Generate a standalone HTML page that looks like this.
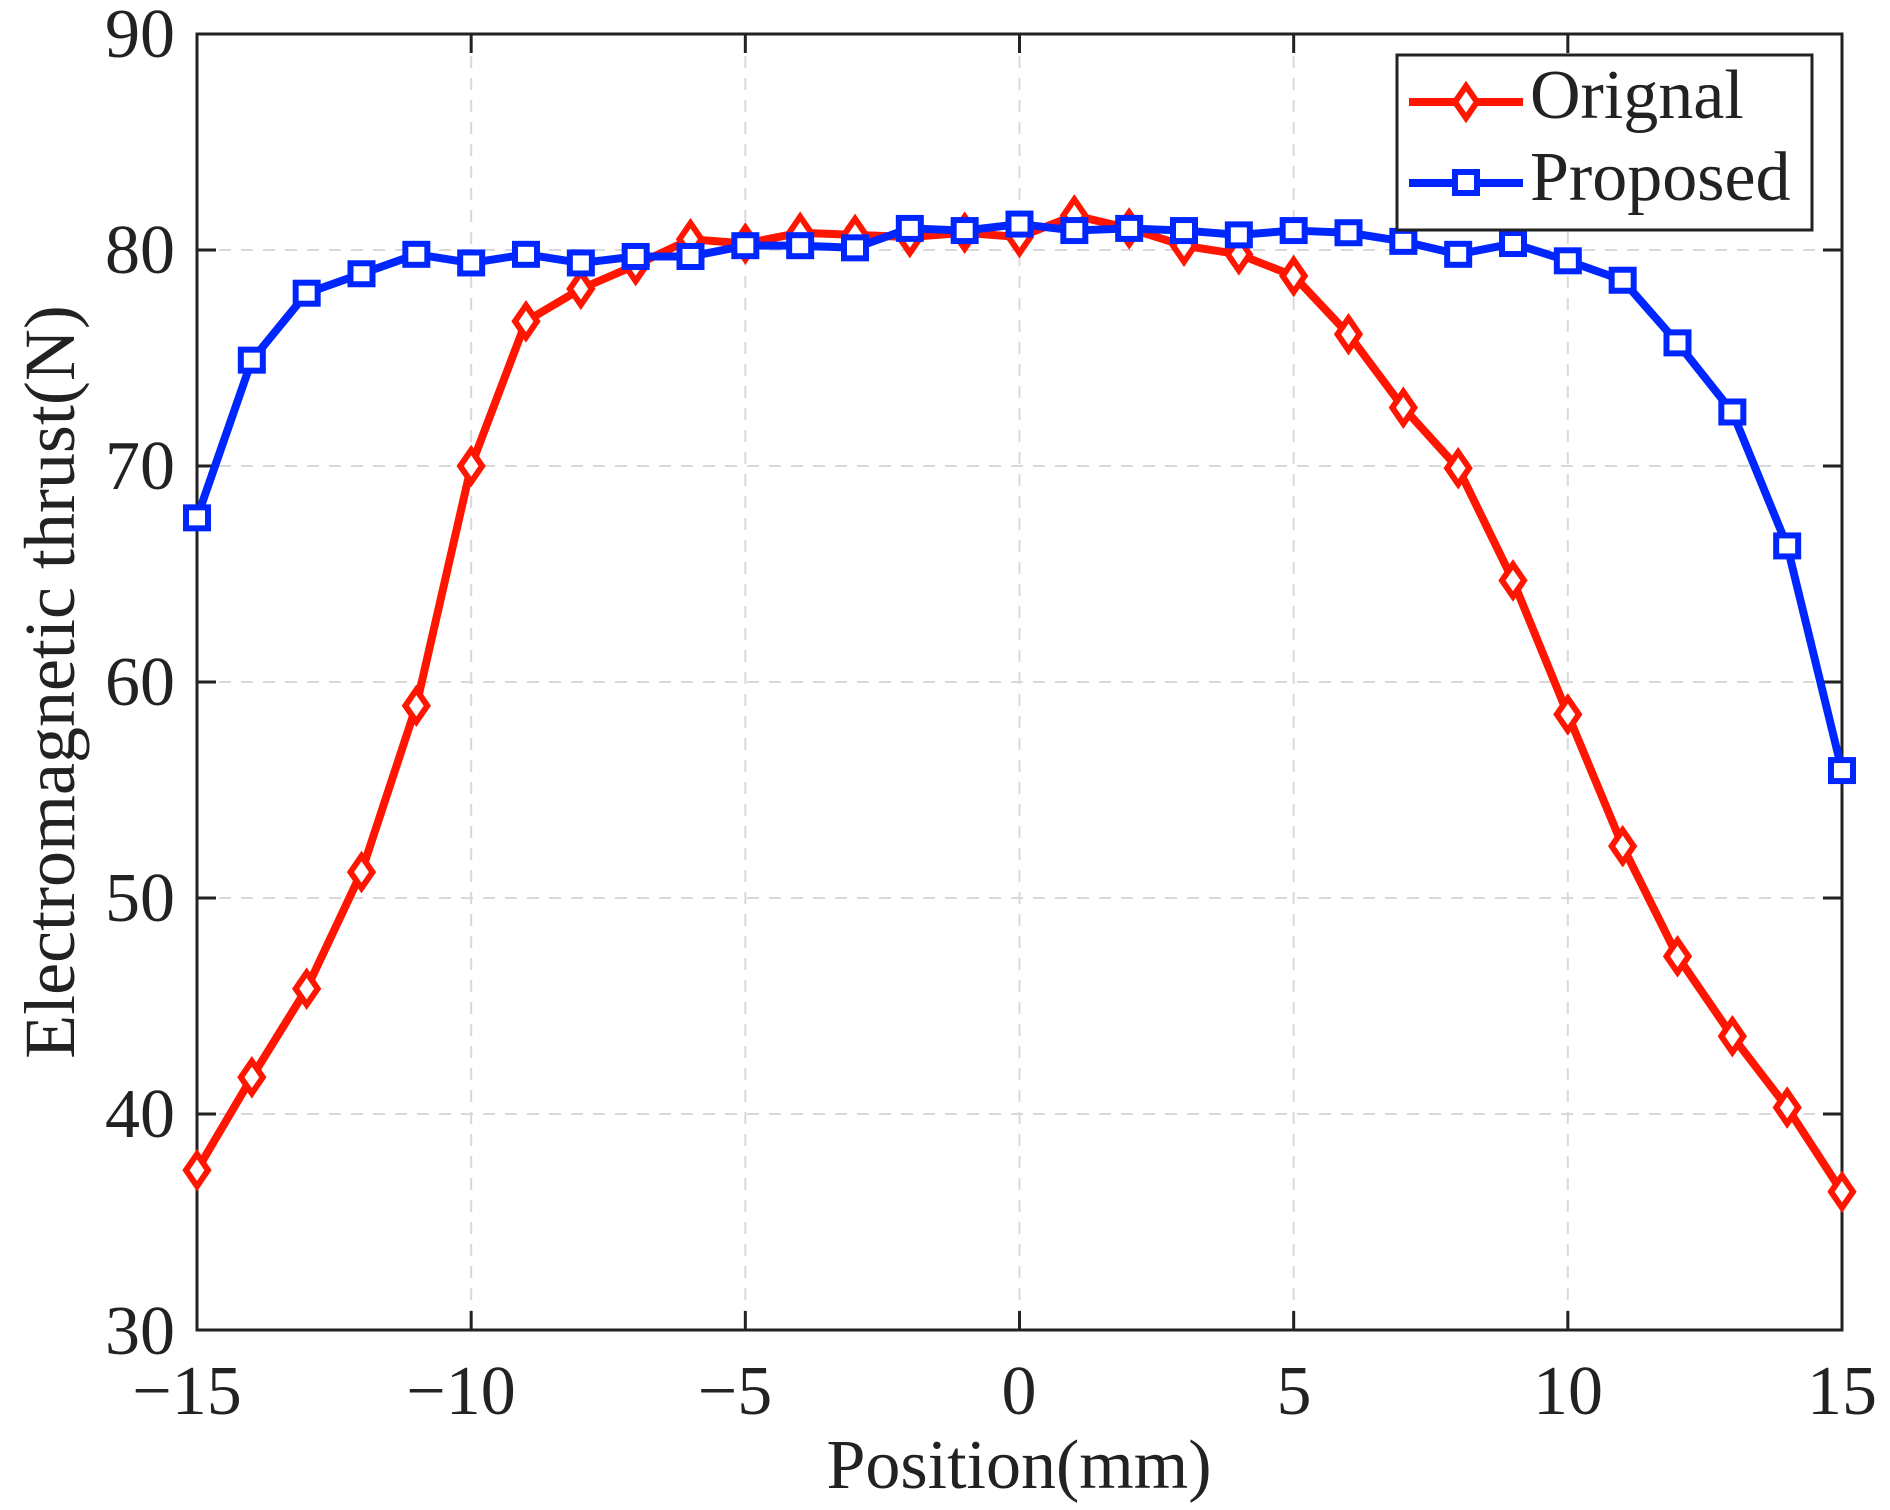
<!DOCTYPE html>
<html><head><meta charset="utf-8"><style>
html,body{margin:0;padding:0;background:#fff;}
svg{display:block;}
text{font-family:"Liberation Serif",serif;fill:#222;}
</style></head><body>
<svg id="s" width="1890" height="1510" viewBox="0 0 1890 1510" xmlns="http://www.w3.org/2000/svg">
<rect width="1890" height="1510" fill="#fff"/>
<g id="grid" stroke="#d9d9d9" stroke-width="2" stroke-dasharray="12,10"></g>
<g id="ticks" stroke="#222" stroke-width="3"></g>
<rect x="197" y="34" width="1645" height="1296" fill="none" stroke="#222" stroke-width="3"/>
<g font-size="70" text-anchor="end">
<text x="175" y="57">90</text>
<text x="175" y="273">80</text>
<text x="175" y="489">70</text>
<text x="175" y="705">60</text>
<text x="175" y="921">50</text>
<text x="175" y="1137">40</text>
<text x="175" y="1354">30</text>
</g>
<g font-size="70" text-anchor="middle" id="xl">
<text x="187" y="1414">−15</text>
<text x="461" y="1414">−10</text>
<text x="735" y="1414">−5</text>
<text x="1019" y="1414">0</text>
<text x="1294" y="1414">5</text>
<text x="1568" y="1414">10</text>
<text x="1842" y="1414">15</text>
</g>
<text x="1019" y="1488" font-size="70" text-anchor="middle">Position(mm)</text>
<text transform="translate(74,682) rotate(-90)" font-size="72" text-anchor="middle">Electromagnetic thrust(N)</text>
<g id="series"></g>
<rect x="1397" y="55" width="415" height="175" fill="#fff" stroke="#222" stroke-width="3"/>
<line x1="1409" y1="102" x2="1523" y2="102" stroke="#ff1500" stroke-width="8"/>
<polygon points="1466,86 1477,102 1466,118 1455,102" fill="#fff" stroke="#ff1500" stroke-width="6"/>
<line x1="1409" y1="183" x2="1523" y2="183" stroke="#0026ff" stroke-width="8"/>
<rect x="1455" y="172" width="22" height="21" fill="#fff" stroke="#0026ff" stroke-width="6"/>
<text x="1530" y="118" font-size="70">Orignal</text>
<text x="1530" y="200" font-size="70">Proposed</text>
</svg>
<script>
var X=function(x){return 197+(x+15)*(1645/30)},Y=function(v){return 34+(90-v)*21.6};
var ns="http://www.w3.org/2000/svg";
function el(p,n,a){var e=document.createElementNS(ns,n);for(var k in a)e.setAttribute(k,a[k]);p.appendChild(e);return e;}
var g=document.getElementById('grid'),t=document.getElementById('ticks'),s=document.getElementById('series');
for(var x=-10;x<=10;x+=5){el(g,'line',{x1:X(x),y1:34,x2:X(x),y2:1330});el(t,'line',{x1:X(x),y1:1330,x2:X(x),y2:1311});el(t,'line',{x1:X(x),y1:34,x2:X(x),y2:53});}
for(var v=40;v<=80;v+=10){el(g,'line',{x1:197,y1:Y(v),x2:1842,y2:Y(v)});el(t,'line',{x1:197,y1:Y(v),x2:216,y2:Y(v)});el(t,'line',{x1:1842,y1:Y(v),x2:1823,y2:Y(v)});}
var red=[37.4,41.7,45.8,51.2,58.9,70.0,76.7,78.2,79.3,80.5,80.3,80.8,80.7,80.6,80.8,80.6,81.6,81.0,80.2,79.8,78.8,76.1,72.7,69.9,64.7,58.5,52.4,47.3,43.6,40.3,36.4];
var blue=[67.6,74.9,78.0,78.9,79.8,79.4,79.8,79.4,79.7,79.7,80.2,80.2,80.1,81.0,80.9,81.2,80.9,81.0,80.9,80.7,80.9,80.8,80.4,79.8,80.3,79.5,78.6,75.7,72.5,66.3,55.9];
function pts(a){return a.map(function(v,i){return X(i-15)+','+Y(v)}).join(' ');}
el(s,'polyline',{points:pts(red),fill:'none',stroke:'#ff1500','stroke-width':8,'stroke-linejoin':'round'});
red.forEach(function(v,i){var cx=X(i-15),cy=Y(v);el(s,'polygon',{points:(cx)+','+(cy-16)+' '+(cx+11)+','+cy+' '+cx+','+(cy+16)+' '+(cx-11)+','+cy,fill:'#fff',stroke:'#ff1500','stroke-width':6});});
el(s,'polyline',{points:pts(blue),fill:'none',stroke:'#0026ff','stroke-width':8,'stroke-linejoin':'round'});
blue.forEach(function(v,i){var cx=X(i-15),cy=Y(v);el(s,'rect',{x:cx-11,y:cy-10.5,width:22,height:21,fill:'#fff',stroke:'#0026ff','stroke-width':6});});
</script>
</body></html>
